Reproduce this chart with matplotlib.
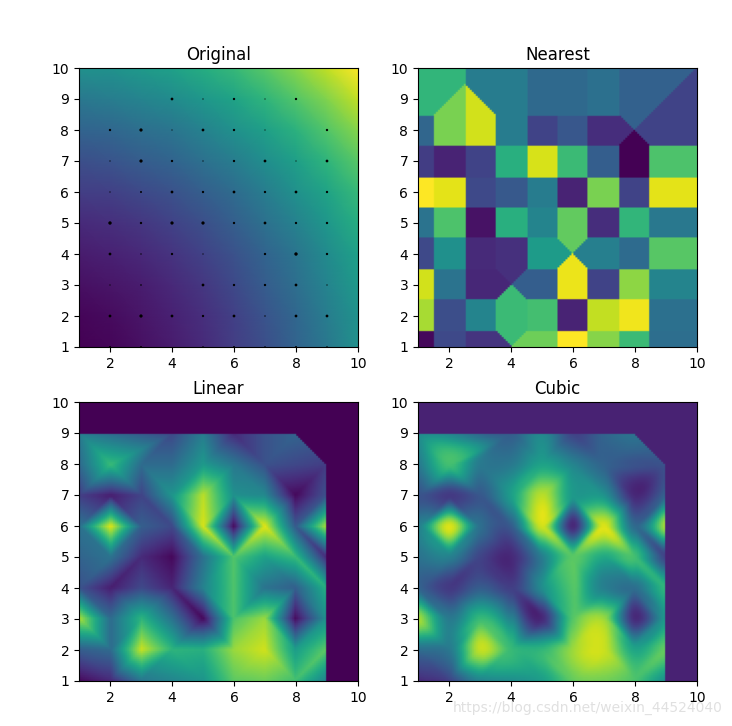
import numpy as np
import matplotlib
matplotlib.use("Agg")
import matplotlib.pyplot as plt
import matplotlib.tri as mtri

n = np.nan
grid_x = [1, 2, 3, 4, 5, 6, 7, 8, 9]
grid_y = [1, 2, 3, 4, 5, 6, 7, 8, 9]
# rows are y = 1..9, columns x = 1..9; nan = no sample point
nearest_z = [
    [.02, .22, .15, n, .78, 1.0, .82, .68, .36],
    [.87, .24, .45, .68, .70, .10, .91, .98, .37],
    [.93, .38, .11, n, .30, .97, .20, .83, .45],
    [.22, .50, .12, .14, .55, n, .43, .35, .74],
    [.38, .72, .05, .63, .45, .76, .13, .66, .40],
    [1.0, .96, .22, .28, .42, .10, .80, .20, .96],
    [.18, .10, .20, .63, .94, .68, .30, .00, .72],
    [.33, .80, .93, .42, .20, .27, .13, n, .20],
    [.66, n, n, .42, .34, .34, .37, .31, n],
]
linear_z = [
    [.03, .12, .40, n, .52, .75, .78, .70, .45],
    [.30, .35, .92, .65, .63, .85, .93, .55, .75],
    [.87, .35, .65, n, .02, .72, .85, .03, .50],
    [.25, .08, .22, .10, .44, n, .38, .30, .63],
    [.32, .38, .12, .02, .37, .73, .57, .68, .12],
    [.38, .96, .30, .22, .94, .02, .96, .28, .88],
    [.18, .08, .20, .52, .90, .50, .47, .02, .25],
    [.35, .68, .35, .35, .54, .40, .25, n, .18],
    [.42, n, n, .22, .42, .12, .25, .32, n],
]
dot_size = [
    [2, 2, 2, n, 1.3, 2, 1.3, 2, 1.3],
    [2, 4, 5.5, 4, 2.8, 4, 1, 4, 4],
    [2, .8, 1.3, n, 4, 2.8, 2.8, 4, .8],
    [2, 4, 1, 2.8, .8, n, 2.8, 6, 2.8],
    [2, 6, 2.8, 5.5, 5.5, 2.8, 4, 2.8, 2.8],
    [2, .8, 2, 4, 2.8, 4, 2.8, 4, 2.8],
    [2, .8, 5.5, 2.8, .8, 2.8, 4, .7, 4],
    [2, 2.8, 5.5, .7, 4, 2.8, .7, n, 2.8],
    [2, n, n, 4, .8, 2.8, .7, 2.8, n],
]
# Diagonal of each full grid cell, rows y = 1..8, columns x = 1..8:
# f = lower-left to upper-right, b = upper-left to lower-right,
# '.' = cell touches a missing sample and is covered by hole_triangles.
cell_diagonals = [
    "bf..bfbf",
    "bf..bfbf",
    "bb....fb",
    "ffbb..bb",
    "bfbbbfbb",
    "fbbbfbff",
    "fbbffb..",
    "...bfb..",
]
hole_triangles = [
    ((3, 1), (4, 2), (3, 2)), ((3, 1), (5, 1), (4, 2)), ((5, 1), (5, 2), (4, 2)),
    ((3, 3), (3, 2), (4, 2)), ((3, 3), (4, 2), (4, 4)), ((3, 3), (4, 4), (3, 4)),
    ((4, 4), (4, 2), (5, 3)), ((4, 2), (5, 2), (5, 3)), ((4, 4), (5, 3), (5, 4)),
    ((5, 3), (6, 3), (5, 4)), ((5, 4), (6, 3), (6, 5)), ((5, 4), (6, 5), (5, 5)),
    ((6, 5), (7, 4), (6, 3)), ((6, 5), (7, 5), (7, 4)), ((6, 3), (7, 3), (7, 4)),
    ((1, 8), (2, 8), (1, 9)), ((1, 9), (2, 8), (4, 9)), ((2, 8), (3, 8), (4, 9)), ((3, 8), (4, 8), (4, 9)),
    ((7, 7), (8, 7), (7, 8)), ((7, 8), (8, 7), (9, 8)), ((8, 7), (9, 7), (9, 8)),
    ((7, 8), (9, 8), (8, 9)), ((7, 8), (8, 9), (7, 9)),
]
surface_x = [1, 2, 3, 4, 5, 6, 7, 8, 9, 10]
surface_y = [1, 2, 3, 4, 5, 6, 7, 8, 9, 10]
surface_z = [
    [.00, .015, .04, .076, .12, .18, .24, .32, .40, .50],
    [.015, .03, .055, .09, .135, .19, .26, .33, .42, .51],
    [.04, .055, .08, .116, .16, .22, .29, .36, .45, .54],
    [.076, .09, .116, .15, .197, .25, .32, .39, .48, .57],
    [.12, .135, .16, .197, .24, .30, .37, .44, .53, .62],
    [.18, .19, .22, .25, .30, .35, .42, .50, .58, .67],
    [.24, .26, .29, .32, .37, .42, .49, .56, .65, .74],
    [.32, .33, .36, .39, .44, .50, .56, .64, .73, .82],
    [.40, .42, .45, .48, .53, .58, .65, .73, .81, .91],
    [.50, .51, .54, .57, .62, .67, .74, .82, .91, 1.0],
]
titles = ["Original", "Nearest", "Linear", "Cubic"]
ticks = [2, 4, 6, 8, 10]
watermark = "https://blog.csdn.net/weixin_44524040"

W, H = 732, 726
fig = plt.figure(figsize=(W / 100, H / 100), dpi=100)


def panel(left, top, title):
    ax = fig.add_axes([left / W, 1 - (top + 279) / H, 279 / W, 279 / H])
    ax.set_xlim(1, 10)
    ax.set_ylim(1, 10)
    ax.set_xticks(ticks)
    ax.set_yticks([1, 2, 3, 4, 5, 6, 7, 8, 9, 10])
    ax.set_title(title)
    return ax


gx, gy = np.meshgrid(grid_x, grid_y)
nz = np.array(nearest_z, float)
lz = np.array(linear_z, float)
ds = np.array(dot_size, float)
ok = ~np.isnan(nz)
px, py = gx[ok].astype(float), gy[ok].astype(float)
index = {(int(a), int(b)): i for i, (a, b) in enumerate(zip(px, py))}

triangles = [[index[p] for p in t] for t in hole_triangles]
for j, row in enumerate(cell_diagonals):
    for i, d in enumerate(row):
        a, b = i + 1, j + 1
        if d == "f":
            cells = [((a, b), (a + 1, b), (a + 1, b + 1)), ((a, b), (a + 1, b + 1), (a, b + 1))]
        elif d == "b":
            cells = [((a, b), (a + 1, b), (a, b + 1)), ((a + 1, b), (a + 1, b + 1), (a, b + 1))]
        else:
            continue
        triangles += [[index[p] for p in t] for t in cells]

fine = np.linspace(1, 10, 140)
fx, fy = np.meshgrid(fine, fine)
extent = (1, 10, 1, 10)

# Original
ax = panel(79, 68, titles[0])
ax.pcolormesh(surface_x, surface_y, np.array(surface_z), shading="gouraud",
              cmap="viridis", vmin=0, vmax=1)
ax.scatter(px, py, s=ds[ok], c="k", linewidths=0, zorder=3)
ax.set_xlim(1, 10)
ax.set_ylim(1, 10)

# Nearest
ax = panel(418, 68, titles[1])
dist = (fx[..., None] - px) ** 2 + (fy[..., None] - py) ** 2
im_near = nz[ok][dist.argmin(axis=2)]
ax.imshow(im_near, origin="lower", extent=extent, cmap="viridis", vmin=0, vmax=1, aspect="auto")

# Linear / Cubic on the same triangulation
tri = mtri.Triangulation(px, py, np.array(triangles))
ax = panel(79, 402, titles[2])
im_lin = mtri.LinearTriInterpolator(tri, lz[ok])(fx, fy).filled(0)
ax.imshow(im_lin, origin="lower", extent=extent, cmap="viridis", vmin=0, vmax=1, aspect="auto")

ax = panel(418, 402, titles[3])
im_cub = mtri.CubicTriInterpolator(tri, lz[ok], kind="geom")(fx, fy).filled(0)
ax.imshow(im_cub, origin="lower", extent=extent, cmap="viridis", vmin=-0.11, vmax=1.02, aspect="auto")

fig.text(723 / W, 1 - 708 / H, watermark, ha="right", va="center", fontsize=10,
         color="#d9d9d9", alpha=0.8, zorder=10)
fig.savefig("out.png", dpi=100)
